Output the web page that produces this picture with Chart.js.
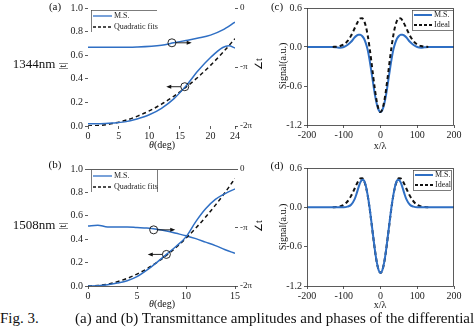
<!DOCTYPE html>
<html>
<head>
<meta charset="utf-8">
<script src="https://cdn.jsdelivr.net/npm/chart.js@4.4.0/dist/chart.umd.min.js"></script>
<style>
  body { margin:0; background:#fff; }
  #wrap { position:relative; width:474px; height:335px; overflow:hidden; font-family:'Liberation Serif', 'Times New Roman', serif; color:#111; }
  canvas { position:absolute; }
  .cap { position:absolute; top:310px; font-size:15px; white-space:nowrap; line-height:17px; }
  .lbl { position:absolute; font-size:10px; line-height:12px; white-space:nowrap; transform:translate(-50%, -50%); }
</style>
</head>
<body>
<div id="wrap">
  <canvas id="pa" width="270" height="150" style="left:0;top:0"></canvas>
  <canvas id="pb" width="270" height="160" style="left:0;top:150px"></canvas>
  <canvas id="pc" width="234" height="150" style="left:240px;top:0"></canvas>
  <canvas id="pd" width="234" height="160" style="left:240px;top:150px"></canvas>
  <div class="lbl" style="left:162px;top:145px"><i>&theta;</i>(deg)</div>
  <div class="lbl" style="left:162px;top:304px"><i>&theta;</i>(deg)</div>
  <div class="lbl" style="left:380px;top:146px">x/&lambda;</div>
  <div class="lbl" style="left:380px;top:305px">x/&lambda;</div>
  <div class="cap" style="left:0">Fig. 3.</div>
  <div class="cap" style="left:75px">(a) and (b) Transmittance amplitudes and phases of the differential</div>
</div>
<script>
// (a) 1344nm
const aThetaMS = [0, 2, 4, 6, 8, 10, 12, 14, 16, 18, 20, 22, 23, 24];
const aAmpMS   = [0.02, 0.02, 0.025, 0.035, 0.06, 0.095, 0.15, 0.23, 0.34, 0.47, 0.58, 0.665, 0.68, 0.66];
const aThetaFit = [0, 2, 4, 6, 8, 10, 12, 14, 16, 18, 20, 22, 24];
const aAmpFit   = [0, 0.005, 0.021, 0.046, 0.082, 0.128, 0.185, 0.252, 0.329, 0.416, 0.514, 0.622, 0.74];
const aThetaPh = [0, 4, 8, 12, 14, 16, 18, 20, 22, 24];
const aPhase   = [-0.666, -0.666, -0.66, -0.63, -0.59, -0.55, -0.51, -0.46, -0.37, -0.24]; // units of pi

// (b) 1508nm
const bTheta  = [0, 1, 2, 3, 4, 5, 6, 7, 8, 9, 10, 11, 12, 13, 14, 15];
const bAmpMS  = [0, 0.002, 0.01, 0.025, 0.045, 0.08, 0.135, 0.2, 0.27, 0.34, 0.42, 0.55, 0.66, 0.74, 0.79, 0.83];
const bAmpFit = [0, 0.004, 0.016, 0.037, 0.065, 0.102, 0.147, 0.2, 0.262, 0.331, 0.409, 0.495, 0.589, 0.691, 0.801, 0.92];
const bPhase  = [-0.974, -0.96, -0.99, -0.99, -0.99, -1.0, -1.01, -1.03, -1.06, -1.1, -1.14, -1.19, -1.25, -1.31, -1.38, -1.44];

// (c), (d) edge detection signals
const idealX = [-130, -120, -110, -100, -90, -80, -70, -60, -55, -50, -45, -40, -35, -30, -25, -20, -15, -10, -5, 0,
                5, 10, 15, 20, 25, 30, 35, 40, 45, 50, 55, 60, 70, 80, 90, 100, 110, 120, 130];
const idealSignal = [0.001, 0.005, 0.015, 0.039, 0.089, 0.175, 0.292, 0.406, 0.44, 0.443, 0.406, 0.32, 0.183, 0, -0.216, -0.445, -0.662, -0.841, -0.959, -1,
                     -0.959, -0.841, -0.662, -0.445, -0.216, 0, 0.183, 0.32, 0.406, 0.443, 0.44, 0.406, 0.292, 0.175, 0.089, 0.039, 0.015, 0.005, 0.001];
const msX = [-200, -150, -130, -120, -110, -100, -90, -80, -70, -65, -60, -55, -50, -45, -40, -35, -30, -25, -20, -15, -10, -5, 0,
             5, 10, 15, 20, 25, 30, 35, 40, 45, 50, 55, 60, 65, 70, 80, 90, 100, 110, 120, 130, 150, 200];
const cSignalMS = [0, 0, 0, -0.005, -0.01, 0, 0.03, 0.08, 0.15, 0.175, 0.19, 0.19, 0.17, 0.13, 0.06, -0.04, -0.19, -0.37, -0.56, -0.74, -0.88, -0.97, -1.0,
                   -0.97, -0.88, -0.74, -0.56, -0.37, -0.19, -0.04, 0.06, 0.13, 0.17, 0.19, 0.19, 0.175, 0.15, 0.08, 0.03, 0, -0.01, -0.005, 0, 0, 0];
const dSignalMS = [0, 0, 0, 0, 0, 0, 0.01, 0.04, 0.13, 0.21, 0.3, 0.38, 0.42, 0.41, 0.33, 0.19, 0.01, -0.21, -0.44, -0.66, -0.84, -0.96, -1.0,
                   -0.96, -0.84, -0.66, -0.44, -0.21, 0.01, 0.19, 0.33, 0.41, 0.42, 0.38, 0.3, 0.21, 0.13, 0.04, 0.01, 0, 0, 0, 0, 0, 0];

const BLUE = '#2f6fc4';
const FONT = "'Liberation Serif', 'Times New Roman', serif";
Chart.defaults.font.family = FONT;
Chart.defaults.font.size = 10;
Chart.defaults.color = '#222';

const pts = (xs, ys) => xs.map((x, i) => ({ x, y: ys[i] }));

// frames, legends, arrows and labels drawn on top of the plot
const decor = {
  id: 'decor',
  afterDraw(chart, args, o) {
    const ctx = chart.ctx, a = chart.chartArea;
    ctx.save();
    ctx.strokeStyle = '#333';
    ctx.lineWidth = 0.8;
    ctx.setLineDash([]);
    if (o.frame === 'box') {
      ctx.strokeRect(a.left + 0.5, a.top + 0.5, a.right - a.left - 1, a.bottom - a.top);
    } else if (o.frame === 'tb') {
      ctx.beginPath();
      ctx.moveTo(a.left, a.top + 0.5); ctx.lineTo(a.right, a.top + 0.5);
      ctx.moveTo(a.left, a.bottom + 0.5); ctx.lineTo(a.right, a.bottom + 0.5);
      ctx.stroke();
    }

    // circle + arrow markers [x, y, arrowEndX]
    const sx = chart.scales.x, sy = chart.scales.y;
    ctx.strokeStyle = '#111';
    ctx.fillStyle = '#111';
    (o.markers || []).forEach(m => {
      const cx = sx.getPixelForValue(m[0]), cy = sy.getPixelForValue(m[1]);
      const ex = sx.getPixelForValue(m[2]);
      const dir = ex > cx ? 1 : -1;
      ctx.lineWidth = 0.9;
      ctx.beginPath(); ctx.arc(cx, cy, 4, 0, Math.PI * 2); ctx.stroke();
      ctx.beginPath(); ctx.moveTo(cx + 4 * dir, cy); ctx.lineTo(ex, cy); ctx.stroke();
      ctx.beginPath();
      ctx.moveTo(ex + 2 * dir, cy); ctx.lineTo(ex - 3 * dir, cy - 2); ctx.lineTo(ex - 3 * dir, cy + 2);
      ctx.closePath(); ctx.fill();
    });

    // legend
    if (o.legend) {
      const L = o.legend;
      ctx.fillStyle = '#fff';
      ctx.fillRect(L.x, L.y, L.w, L.h);
      ctx.strokeStyle = '#444';
      ctx.lineWidth = 0.7;
      ctx.beginPath();
      if (L.sides.includes('t')) { ctx.moveTo(L.x, L.y + 0.5); ctx.lineTo(L.x + L.w, L.y + 0.5); }
      if (L.sides.includes('b')) { ctx.moveTo(L.x, L.y + L.h + 0.5); ctx.lineTo(L.x + L.w, L.y + L.h + 0.5); }
      if (L.sides.includes('l')) { ctx.moveTo(L.x + 0.5, L.y); ctx.lineTo(L.x + 0.5, L.y + L.h); }
      if (L.sides.includes('r')) { ctx.moveTo(L.x + L.w + 0.5, L.y); ctx.lineTo(L.x + L.w + 0.5, L.y + L.h); }
      ctx.stroke();
      ctx.font = L.size + 'px ' + FONT;
      ctx.textBaseline = 'middle';
      ctx.textAlign = 'left';
      L.items.forEach((it, i) => {
        const y = L.y + L.first + i * L.gap;
        ctx.strokeStyle = it.color;
        ctx.lineWidth = it.width;
        ctx.setLineDash(it.dash || []);
        ctx.beginPath(); ctx.moveTo(L.x + 2, y); ctx.lineTo(L.x + 2 + L.sample, y); ctx.stroke();
        ctx.setLineDash([]);
        ctx.fillStyle = '#222';
        ctx.fillText(it.text, L.x + 4 + L.sample, y);
      });
    }

    // free texts
    (o.texts || []).forEach(t => {
      ctx.save();
      ctx.translate(t.x, t.y);
      if (t.rot) ctx.rotate(t.rot);
      ctx.font = t.size + 'px ' + FONT;
      ctx.fillStyle = '#111';
      ctx.textAlign = 'center';
      ctx.textBaseline = 'middle';
      ctx.fillText(t.t, 0, 0);
      ctx.restore();
    });
    ctx.restore();
  }
};

function axisGrid() {
  return { drawOnChartArea: false, tickLength: 3, color: '#333', lineWidth: 0.8 };
}

function ampChart(id, opts) {
  const piLabels = { '-2': '-2\u03c0', '-1': '-\u03c0', '0': '0' };
  return new Chart(document.getElementById(id), {
    type: 'line',
    data: { datasets: opts.datasets },
    options: {
      responsive: false,
      animation: false,
      layout: { padding: { top: opts.top, left: 0, right: 0, bottom: 0 } },
      elements: { point: { radius: 0 }, line: { cubicInterpolationMode: 'monotone' } },
      plugins: { legend: { display: false }, tooltip: { enabled: false }, decor: opts.decor },
      scales: {
        x: {
          type: 'linear', min: 0, max: opts.xMax,
          afterBuildTicks: s => { s.ticks = opts.xTicks.map(v => ({ value: v })); },
          afterFit: s => { s.height = opts.xHeight; },
          ticks: { padding: 1, callback: v => String(v) },
          grid: axisGrid(), border: { display: false }
        },
        y: {
          min: 0, max: 1,
          afterFit: s => { s.width = 88; },
          ticks: { stepSize: 0.1, padding: 2, callback: v => v.toFixed(1) },
          grid: axisGrid(), border: { display: false }
        },
        y2: {
          position: 'right', min: -2, max: 0,
          afterBuildTicks: s => { s.ticks = [-2, -1, 0].map(v => ({ value: v })); },
          afterFit: s => { s.width = 35; },
          ticks: { padding: 2, font: { size: 9 }, callback: v => piLabels[String(v)] },
          grid: axisGrid(), border: { display: false }
        }
      }
    },
    plugins: [decor]
  });
}

function signalChart(id, opts) {
  return new Chart(document.getElementById(id), {
    type: 'line',
    data: { datasets: opts.datasets },
    options: {
      responsive: false,
      animation: false,
      layout: { padding: { top: opts.top, left: 0, right: 20, bottom: 0 } },
      elements: { point: { radius: 0 }, line: { cubicInterpolationMode: 'monotone' } },
      plugins: { legend: { display: false }, tooltip: { enabled: false }, decor: opts.decor },
      scales: {
        x: {
          type: 'linear', min: -200, max: 200,
          afterBuildTicks: s => { s.ticks = [-200, -100, 0, 100, 200].map(v => ({ value: v })); },
          afterFit: s => { s.height = opts.xHeight; },
          ticks: { padding: 1, callback: v => String(v) },
          grid: axisGrid(), border: { display: false }
        },
        y: {
          min: -1.2, max: 0.6,
          afterBuildTicks: s => { s.ticks = [-1.2, -0.6, 0, 0.6].map(v => ({ value: v })); },
          afterFit: s => { s.width = 67; },
          ticks: { padding: 2, callback: v => v.toFixed(1) },
          grid: axisGrid(), border: { display: false }
        }
      }
    },
    plugins: [decor]
  });
}

const solid = (data, axis) => ({ data, borderColor: BLUE, borderWidth: 1.5, yAxisID: axis || 'y' });
const dashed = (data, w) => ({ data, borderColor: '#111', borderWidth: w || 1.5, borderDash: [4, 3], yAxisID: 'y' });

const fitLegend = (y, sides) => ({
  x: 91, y, w: 66, h: 22, sides, size: 8, first: 6, gap: 11, sample: 19,
  items: [
    { text: 'M.S.', color: BLUE, width: 1.3 },
    { text: 'Quadratic fits', color: '#111', width: 1.3, dash: [3, 2] }
  ]
});
const sigLegend = (y) => ({
  x: 172, y, w: 41, h: 20, sides: 'tblr', size: 8, first: 5, gap: 10, sample: 18,
  items: [
    { text: 'M.S.', color: BLUE, width: 2 },
    { text: 'Ideal', color: '#111', width: 2, dash: [3, 2] }
  ]
});

ampChart('pa', {
  xMax: 24, xTicks: [0, 5, 10, 15, 20, 24], top: 6, xHeight: 24,
  datasets: [solid(pts(aThetaMS, aAmpMS)), dashed(pts(aThetaFit, aAmpFit)), solid(pts(aThetaPh, aPhase), 'y2')],
  decor: {
    frame: 'none',
    markers: [[13.7, 0.705, 16.6], [15.8, 0.333, 13.1]],
    legend: fitLegend(10, 'tl'),
    texts: [
      { t: '(a)', x: 55, y: 7, size: 11 },
      { t: '1344nm', x: 34, y: 65, size: 13 },
      { t: '|t|', x: 63, y: 66, size: 10, rot: -Math.PI / 2 },
      { t: '\u2220t', x: 259, y: 64, size: 10, rot: -Math.PI / 2 }
    ]
  }
});

ampChart('pb', {
  xMax: 15, xTicks: [0, 5, 10, 15], top: 19, xHeight: 24,
  datasets: [solid(pts(bTheta, bAmpMS)), dashed(pts(bTheta, bAmpFit)), solid(pts(bTheta, bPhase), 'y2')],
  decor: {
    frame: 'tb',
    markers: [[6.7, 0.48, 8.7], [8.0, 0.27, 6.3]],
    legend: fitLegend(20, 'lr'),
    texts: [
      { t: '(b)', x: 55, y: 15, size: 11 },
      { t: '1508nm', x: 34, y: 76, size: 13 },
      { t: '|t|', x: 63, y: 76, size: 10, rot: -Math.PI / 2 },
      { t: '\u2220t', x: 259, y: 76, size: 10, rot: -Math.PI / 2 }
    ]
  }
});

signalChart('pc', {
  top: 7, xHeight: 25,
  datasets: [dashed(pts(idealX, idealSignal), 2), { ...solid(pts(msX, cSignalMS)), borderWidth: 2 }],
  decor: {
    frame: 'box',
    legend: sigLegend(10),
    texts: [
      { t: '(c)', x: 37, y: 7, size: 11 },
      { t: 'Signal(a.u.)', x: 43, y: 66, size: 10, rot: -Math.PI / 2 }
    ]
  }
});

signalChart('pd', {
  top: 18, xHeight: 24,
  datasets: [{ ...solid(pts(msX, dSignalMS)), borderWidth: 2 }, dashed(pts(idealX, idealSignal), 2)],
  decor: {
    frame: 'box',
    legend: { ...sigLegend(20), x: 173, w: 38 },
    texts: [
      { t: '(d)', x: 37, y: 16, size: 11 },
      { t: 'Signal(a.u.)', x: 43, y: 77, size: 10, rot: -Math.PI / 2 }
    ]
  }
});
</script>
</body>
</html>
